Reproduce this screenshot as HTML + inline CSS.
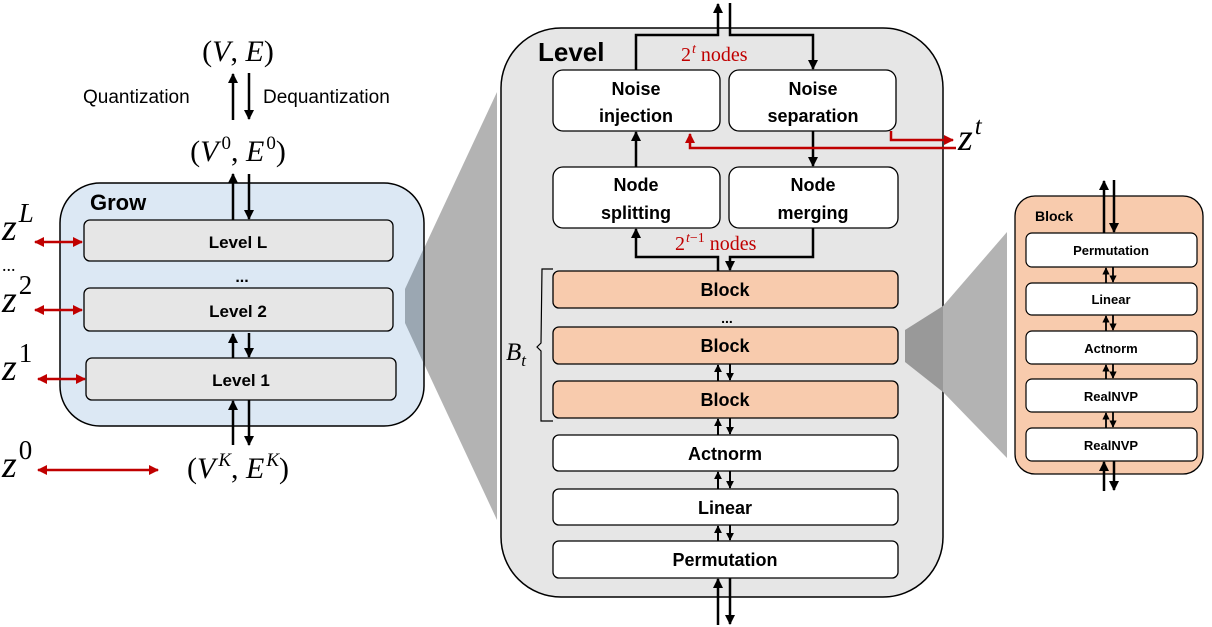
<!DOCTYPE html>
<html><head><meta charset="utf-8"><style>
html,body{margin:0;padding:0;background:#fff}
svg{display:block}
.s{font-family:"Liberation Sans",sans-serif;font-weight:bold;fill:#000}
.m{font-family:"Liberation Serif",serif;font-style:italic;fill:#000}
.r{font-family:"Liberation Serif",serif;font-style:normal;fill:#000}
</style></head><body>
<svg width="1212" height="627" viewBox="0 0 1212 627" xmlns="http://www.w3.org/2000/svg">
<defs>
<marker id="a" viewBox="0 0 10 10" refX="9" refY="5" markerWidth="4" markerHeight="4" orient="auto-start-reverse"><path d="M0,0L10,5L0,10z" fill="#000"/></marker>
<marker id="ar" viewBox="0 0 10 10" refX="9" refY="5" markerWidth="4" markerHeight="4" orient="auto-start-reverse"><path d="M0,0L10,5L0,10z" fill="#c00000"/></marker>
</defs>
<!-- zoom trapezoids -->
<polygon points="405,289 497,92 497,520 405,323" fill="#b3b3b3"/>
<!-- Grow box -->
<rect x="60" y="183" width="364" height="243" rx="40" fill="#dce8f4" stroke="#000" stroke-width="1.5"/>
<polygon points="405,289 423,250 423,362 405,323" fill="#9ba7b2"/>
<text x="90" y="210" class="s" font-size="22">Grow</text>
<rect x="84" y="220" width="309" height="41" rx="6" fill="#e6e6e6" stroke="#000" stroke-width="1.3"/>
<text x="238" y="248" class="s" font-size="17" text-anchor="middle">Level L</text>
<text x="242" y="282" class="s" font-size="16" text-anchor="middle">...</text>
<rect x="84" y="288" width="309" height="43" rx="6" fill="#e6e6e6" stroke="#000" stroke-width="1.3"/>
<text x="238" y="317" class="s" font-size="17" text-anchor="middle">Level 2</text>
<rect x="86" y="358" width="310" height="42" rx="6" fill="#e6e6e6" stroke="#000" stroke-width="1.3"/>
<text x="241" y="386" class="s" font-size="17" text-anchor="middle">Level 1</text>
<g stroke="#000" stroke-width="2.5" fill="none">
<line x1="233" y1="120" x2="233" y2="74" marker-end="url(#a)"/>
<line x1="249" y1="73" x2="249" y2="119" marker-end="url(#a)"/>
<line x1="233" y1="220" x2="233" y2="174" marker-end="url(#a)"/>
<line x1="249" y1="174" x2="249" y2="219" marker-end="url(#a)"/>
<line x1="233" y1="358" x2="233" y2="334" marker-end="url(#a)"/>
<line x1="249" y1="333" x2="249" y2="357" marker-end="url(#a)"/>
<line x1="233" y1="445" x2="233" y2="401" marker-end="url(#a)"/>
<line x1="249" y1="400" x2="249" y2="445" marker-end="url(#a)"/>
</g>
<text x="238" y="61" class="r" font-size="30" text-anchor="middle">(<tspan class="m">V</tspan>, <tspan class="m">E</tspan>)</text>
<text x="83" y="103" font-family="Liberation Sans,sans-serif" font-size="19">Quantization</text>
<text x="263" y="103" font-family="Liberation Sans,sans-serif" font-size="19">Dequantization</text>
<text x="238" y="161" class="r" font-size="30" text-anchor="middle">(<tspan class="m">V</tspan><tspan font-size="19" dx="3" dy="-12">0</tspan><tspan dy="12">, </tspan><tspan class="m">E</tspan><tspan font-size="19" dx="2" dy="-12">0</tspan><tspan dy="12">)</tspan></text>
<text x="238" y="478" class="r" font-size="30" text-anchor="middle">(<tspan class="m">V</tspan><tspan class="m" font-size="19" dx="3" dy="-12">K</tspan><tspan dy="12">, </tspan><tspan class="m">E</tspan><tspan class="m" font-size="19" dx="2" dy="-12">K</tspan><tspan dy="12">)</tspan></text>
<g class="m" font-size="38">
<text x="2" y="240">z<tspan font-size="27" dx="2" dy="-18">L</tspan></text>
<text x="2" y="312">z<tspan class="r" font-size="27" dx="2" dy="-18">2</tspan></text>
<text x="2" y="380">z<tspan class="r" font-size="27" dx="2" dy="-18">1</tspan></text>
<text x="2" y="477">z<tspan class="r" font-size="27" dx="2" dy="-18">0</tspan></text>
</g>
<text x="2" y="271" class="r" font-size="18">...</text>
<g stroke="#c00000" stroke-width="2.5">
<line x1="35" y1="242" x2="82" y2="242" marker-start="url(#ar)" marker-end="url(#ar)"/>
<line x1="35" y1="310" x2="82" y2="310" marker-start="url(#ar)" marker-end="url(#ar)"/>
<line x1="38" y1="379" x2="85" y2="379" marker-start="url(#ar)" marker-end="url(#ar)"/>
<line x1="38" y1="470" x2="158" y2="470" marker-start="url(#ar)" marker-end="url(#ar)"/>
</g>
<!-- Level box -->
<rect x="501" y="28" width="442" height="569" rx="60" fill="#e6e6e6" stroke="#000" stroke-width="1.5"/>
<polygon points="905,330 943,306 943,392 905,362" fill="#999"/>
<polygon points="943,306 1007,232 1007,458 943,392" fill="#b3b3b3"/>
<text x="538" y="61" class="s" font-size="26">Level</text>
<g fill="#fff" stroke="#000" stroke-width="1.3">
<rect x="553" y="70" width="167" height="61" rx="10"/>
<rect x="729" y="70" width="167" height="61" rx="10"/>
<rect x="553" y="167" width="167" height="61" rx="10"/>
<rect x="729" y="167" width="169" height="61" rx="10"/>
</g>
<g class="s" font-size="18" text-anchor="middle">
<text x="636" y="95">Noise</text><text x="636" y="122">injection</text>
<text x="813" y="95">Noise</text><text x="813" y="122">separation</text>
<text x="636" y="191">Node</text><text x="636" y="219">splitting</text>
<text x="813" y="191">Node</text><text x="813" y="219">merging</text>
</g>
<g fill="#f8cbad" stroke="#000" stroke-width="1.3">
<rect x="553" y="271" width="345" height="37" rx="6"/>
<rect x="553" y="327" width="345" height="37" rx="6"/>
<rect x="553" y="381" width="345" height="37" rx="6"/>
</g>
<g fill="#fff" stroke="#000" stroke-width="1.3">
<rect x="553" y="435" width="345" height="36" rx="6"/>
<rect x="553" y="489" width="345" height="36" rx="6"/>
<rect x="553" y="541" width="345" height="37" rx="6"/>
</g>
<g class="s" font-size="18" text-anchor="middle">
<text x="725" y="296">Block</text>
<text x="725" y="352">Block</text>
<text x="725" y="406">Block</text>
<text x="725" y="460">Actnorm</text>
<text x="725" y="514">Linear</text>
<text x="725" y="566">Permutation</text>
<text x="727" y="323" font-size="14">...</text>
</g>
<g stroke="#000" stroke-width="2.5" fill="none">
<polyline points="636,70 636,35 718,35 718,4" marker-end="url(#a)"/>
<polyline points="730,3 730,35 813,35 813,69" marker-end="url(#a)"/>
<line x1="636" y1="167" x2="636" y2="132" marker-end="url(#a)"/>
<line x1="813" y1="131" x2="813" y2="166" marker-end="url(#a)"/>
<polyline points="718,271 718,257 636,257 636,229" marker-end="url(#a)"/>
<polyline points="813,228 813,257 730,257 730,270" marker-end="url(#a)"/>
<line x1="718" y1="625" x2="718" y2="579" marker-end="url(#a)"/>
<line x1="730" y1="578" x2="730" y2="624" marker-end="url(#a)"/>
</g>
<g stroke="#000" stroke-width="2" fill="none">
<line x1="718" y1="381" x2="718" y2="365" marker-end="url(#a)"/><line x1="730" y1="364" x2="730" y2="380" marker-end="url(#a)"/>
<line x1="718" y1="435" x2="718" y2="419" marker-end="url(#a)"/><line x1="730" y1="418" x2="730" y2="434" marker-end="url(#a)"/>
<line x1="718" y1="489" x2="718" y2="472" marker-end="url(#a)"/><line x1="730" y1="471" x2="730" y2="488" marker-end="url(#a)"/>
<line x1="718" y1="541" x2="718" y2="526" marker-end="url(#a)"/><line x1="730" y1="525" x2="730" y2="540" marker-end="url(#a)"/>
</g>
<g stroke="#c00000" stroke-width="2.5" fill="none">
<polyline points="891,131 891,140 953,140" marker-end="url(#ar)"/>
<polyline points="956,148 690,148 690,134" marker-end="url(#ar)"/>
</g>
<text x="681" y="61" class="r" font-size="20" style="fill:#c00000">2<tspan class="m" font-size="14" dx="1" dy="-8" style="fill:#c00000">t</tspan><tspan dy="8"> nodes</tspan></text>
<text x="675" y="250" class="r" font-size="20" style="fill:#c00000">2<tspan class="m" font-size="14" dx="1" dy="-8" style="fill:#c00000">t</tspan><tspan font-size="14">−1</tspan><tspan dy="8"> nodes</tspan></text>
<text x="958" y="150" class="m" font-size="38">z<tspan font-size="25" dx="2" dy="-16">t</tspan></text>
<path d="M553,269 L542,269 L541,343 L537,347 L541,351 L541,421 L553,421" fill="none" stroke="#000" stroke-width="1.2"/>
<text x="506" y="360" class="m" font-size="25">B<tspan font-size="17" dy="6">t</tspan></text>
<!-- Block detail -->
<rect x="1015" y="196" width="188" height="278" rx="20" fill="#f8cbad" stroke="#000" stroke-width="1.3"/>
<text x="1035" y="221" class="s" font-size="14">Block</text>
<g fill="#fff" stroke="#000" stroke-width="1.2">
<rect x="1026" y="233" width="171" height="34" rx="6"/>
<rect x="1026" y="283" width="171" height="32" rx="6"/>
<rect x="1026" y="331" width="171" height="33" rx="6"/>
<rect x="1026" y="379" width="171" height="33" rx="6"/>
<rect x="1026" y="428" width="171" height="33" rx="6"/>
</g>
<g class="s" font-size="13" text-anchor="middle">
<text x="1111" y="255">Permutation</text>
<text x="1111" y="304">Linear</text>
<text x="1111" y="353">Actnorm</text>
<text x="1111" y="401">RealNVP</text>
<text x="1111" y="450">RealNVP</text>
</g>
<g stroke="#000" stroke-width="2.5" fill="none">
<line x1="1104" y1="233" x2="1104" y2="181" marker-end="url(#a)"/>
<line x1="1114" y1="180" x2="1114" y2="232" marker-end="url(#a)"/>
<line x1="1104" y1="491" x2="1104" y2="462" marker-end="url(#a)"/>
<line x1="1114" y1="461" x2="1114" y2="490" marker-end="url(#a)"/>
</g>
<g stroke="#000" stroke-width="1.8" fill="none">
<line x1="1106" y1="283" x2="1106" y2="268" marker-end="url(#a)"/><line x1="1113" y1="267" x2="1113" y2="282" marker-end="url(#a)"/>
<line x1="1106" y1="331" x2="1106" y2="316" marker-end="url(#a)"/><line x1="1113" y1="315" x2="1113" y2="330" marker-end="url(#a)"/>
<line x1="1106" y1="379" x2="1106" y2="365" marker-end="url(#a)"/><line x1="1113" y1="364" x2="1113" y2="378" marker-end="url(#a)"/>
<line x1="1106" y1="428" x2="1106" y2="413" marker-end="url(#a)"/><line x1="1113" y1="412" x2="1113" y2="427" marker-end="url(#a)"/>
</g>
</svg>
</body></html>
